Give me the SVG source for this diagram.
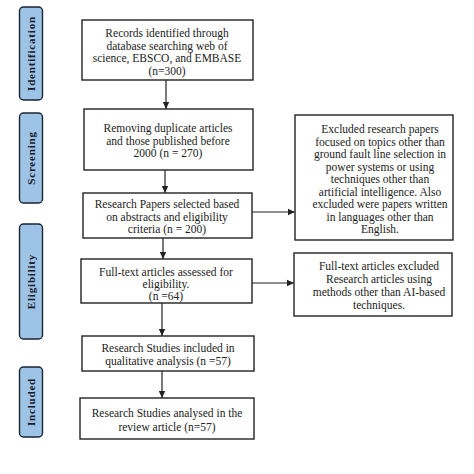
<svg xmlns="http://www.w3.org/2000/svg" width="474" height="474" viewBox="0 0 474 474">
<style>
.box{fill:#fff;stroke:#222;stroke-width:1.4}
.side{fill:#9dc3e6;stroke:#1a2530;stroke-width:1.4}
.t{font-family:"Liberation Serif","Times New Roman",serif;font-size:11.5px;fill:#222;text-anchor:middle}
.s{font-family:"Liberation Serif","Times New Roman",serif;font-size:11px;font-weight:bold;fill:#1a1a2a;text-anchor:middle;letter-spacing:0.8px}
.c{stroke:#222;stroke-width:1.2;fill:none;marker-end:url(#ah)}
</style>
<defs>
<marker id="ah" markerWidth="8" markerHeight="8" refX="7" refY="4" orient="auto" markerUnits="userSpaceOnUse">
<path d="M0,0.8 L7,4 L0,7.2 Z" fill="#222"/>
</marker>
</defs>
<rect width="474" height="474" fill="#fff"/>
<g id="phase-identification">
<rect class="side" x="19.5" y="7" width="23" height="93" rx="4"/>
<text class="s" transform="translate(35,53.5) rotate(-90)">Identification</text>
</g>
<g id="phase-screening">
<rect class="side" x="19.5" y="113" width="23" height="90" rx="4"/>
<text class="s" transform="translate(35,158) rotate(-90)">Screening</text>
</g>
<g id="phase-eligibility">
<rect class="side" x="19.5" y="224" width="23" height="115" rx="4"/>
<text class="s" transform="translate(35,281.5) rotate(-90)">Eligibility</text>
</g>
<g id="phase-included">
<rect class="side" x="19.5" y="367" width="23" height="70" rx="4"/>
<text class="s" transform="translate(35,402) rotate(-90)">Included</text>
</g>
<g id="connectors">
<line class="c" x1="166" y1="80" x2="166" y2="109"/>
<line class="c" x1="165" y1="170" x2="165" y2="193"/>
<line class="c" x1="163" y1="238" x2="163" y2="259"/>
<line class="c" x1="162" y1="303" x2="162" y2="336"/>
<line class="c" x1="162" y1="371" x2="162" y2="398"/>
<line class="c" x1="252" y1="212" x2="295" y2="212"/>
<line class="c" x1="252" y1="283" x2="294" y2="283"/>
</g>
<g id="n1">
<rect class="box" x="82" y="20" width="171" height="60"/>
<text class="t" x="167" y="37">Records identified through</text>
<text class="t" x="167" y="49.5">database searching web of</text>
<text class="t" x="167" y="62">science, EBSCO, and EMBASE</text>
<text class="t" x="167" y="74.5">(n=300)</text>
</g>
<g id="n2">
<rect class="box" x="84" y="109" width="169" height="61"/>
<text class="t" x="168" y="132">Removing duplicate articles</text>
<text class="t" x="168" y="144.5">and those published before</text>
<text class="t" x="168" y="157">2000 (n = 270)</text>
</g>
<g id="n3">
<rect class="box" x="83" y="193" width="169" height="45"/>
<text class="t" x="167" y="208">Research Papers selected based</text>
<text class="t" x="167" y="220.5">on abstracts and eligibility</text>
<text class="t" x="167" y="233">criteria (n = 200)</text>
</g>
<g id="n4">
<rect class="box" x="81" y="259" width="171" height="44"/>
<text class="t" x="166" y="276">Full-text articles assessed for</text>
<text class="t" x="166" y="288">eligibility.</text>
<text class="t" x="166" y="300">(n =64)</text>
</g>
<g id="n5">
<rect class="box" x="82" y="336" width="172" height="35"/>
<text class="t" x="168" y="352">Research Studies included in</text>
<text class="t" x="168" y="365">qualitative analysis (n =57)</text>
</g>
<g id="n6">
<rect class="box" x="80" y="398" width="174" height="41"/>
<text class="t" x="167" y="417">Research Studies analysed in the</text>
<text class="t" x="167" y="431">review article (n=57)</text>
</g>
<g id="x1">
<rect class="box" x="295" y="115" width="158" height="125"/>
<text class="t" x="380" y="133">Excluded research papers</text>
<text class="t" x="380" y="145.5">focused on topics other than</text>
<text class="t" x="380" y="158">ground fault line selection in</text>
<text class="t" x="380" y="170.5">power systems or using</text>
<text class="t" x="380" y="183">techniques other than</text>
<text class="t" x="380" y="195.5">artificial intelligence.  Also</text>
<text class="t" x="380" y="208">excluded were papers written</text>
<text class="t" x="380" y="220.5">in languages other than</text>
<text class="t" x="380" y="233">English.</text>
</g>
<g id="x2">
<rect class="box" x="294" y="253" width="158" height="63"/>
<text class="t" x="379" y="270">Full-text articles excluded</text>
<text class="t" x="379" y="283">Research articles using</text>
<text class="t" x="379" y="296">methods other than AI-based</text>
<text class="t" x="379" y="308.5">techniques.</text>
</g>
</svg>
